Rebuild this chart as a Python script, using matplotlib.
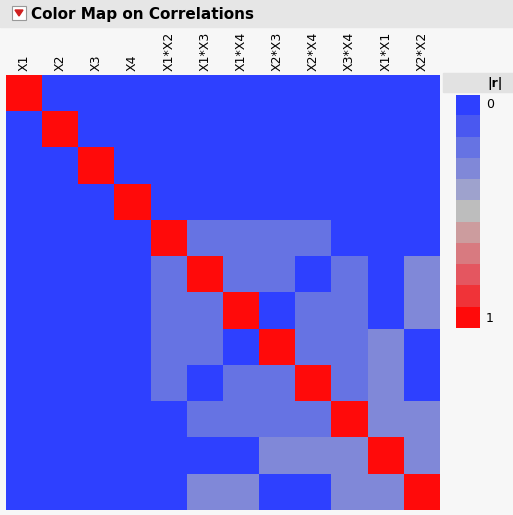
import numpy as np
import matplotlib.pyplot as plt
from matplotlib.colors import ListedColormap, BoundaryNorm
from matplotlib.patches import Rectangle, Polygon

labels = ["X1", "X2", "X3", "X4", "X1*X2", "X1*X3", "X1*X4", "X2*X3",
          "X2*X4", "X3*X4", "X1*X1", "X2*X2"]
legend_colors = ["#2E40FF", "#4A58F0", "#6673E3", "#8088D8", "#9EA2CD", "#BDBDBD",
                 "#CC9C9E", "#D87A80", "#E45660", "#F03338", "#FF0A0A"]
# |r| estimates (bin centres)
a, b = 0.2, 0.3
upper = {
    (4, 5): a, (4, 6): a, (4, 7): a, (4, 8): a,
    (5, 6): a, (5, 7): a, (5, 9): a, (5, 11): b,
    (6, 8): a, (6, 9): a, (6, 11): b,
    (7, 8): a, (7, 9): a, (7, 10): b,
    (8, 9): a, (8, 10): b,
    (9, 10): b, (9, 11): b,
    (10, 11): b,
}
n = len(labels)
corr = np.eye(n)
for (i, j), v in upper.items():
    corr[i, j] = corr[j, i] = v

W, H = 513, 515
fig = plt.figure(figsize=(W / 100, H / 100), dpi=100, facecolor="#F7F7F7")

def px_axes(x0, y0, x1, y1):
    return fig.add_axes([x0 / W, 1 - y1 / H, (x1 - x0) / W, (y1 - y0) / H])

# title bar
bg = fig.add_axes([0, 0, 1, 1], zorder=-1)
bg.set_xlim(0, W); bg.set_ylim(H, 0); bg.axis("off")
bg.add_patch(Rectangle((0, 0), W, 27, color="#E6E6E6"))
bg.add_patch(Rectangle((12, 6), 14, 14, facecolor="white", edgecolor="#999999", lw=0.8))
bg.add_patch(Polygon([(15, 10), (23, 10), (19, 16)], color="#D02020"))
bg.text(31, 14, "Color Map on Correlations", fontsize=11, fontweight="bold", va="center")
bg.add_patch(Rectangle((443, 73), 70, 19, color="#E2E2E2"))
bg.text(487, 83, "|r|", fontsize=9, fontweight="bold", va="center")

cmap = ListedColormap(legend_colors)
norm = BoundaryNorm(np.linspace(0, 1, 12), 11)
ax = px_axes(6, 75, 440, 510)
ax.imshow(corr, cmap=cmap, norm=norm, aspect="auto", interpolation="nearest")
ax.set_xticks(range(n))
ax.set_xticklabels(labels, rotation=90, fontsize=9)
ax.xaxis.tick_top()
ax.set_yticks([])
ax.tick_params(length=0, pad=3)
for s in ax.spines.values():
    s.set_visible(False)

lax = px_axes(456, 95, 480, 328)
lax.imshow(np.arange(11).reshape(-1, 1), cmap=cmap, aspect="auto", interpolation="nearest")
lax.set_xticks([]); lax.set_yticks([])
for s in lax.spines.values():
    s.set_visible(False)
bg.text(486, 104, "0", fontsize=9, va="center")
bg.text(486, 318, "1", fontsize=9, va="center")

fig.savefig("out.png", dpi=100, facecolor=fig.get_facecolor())
